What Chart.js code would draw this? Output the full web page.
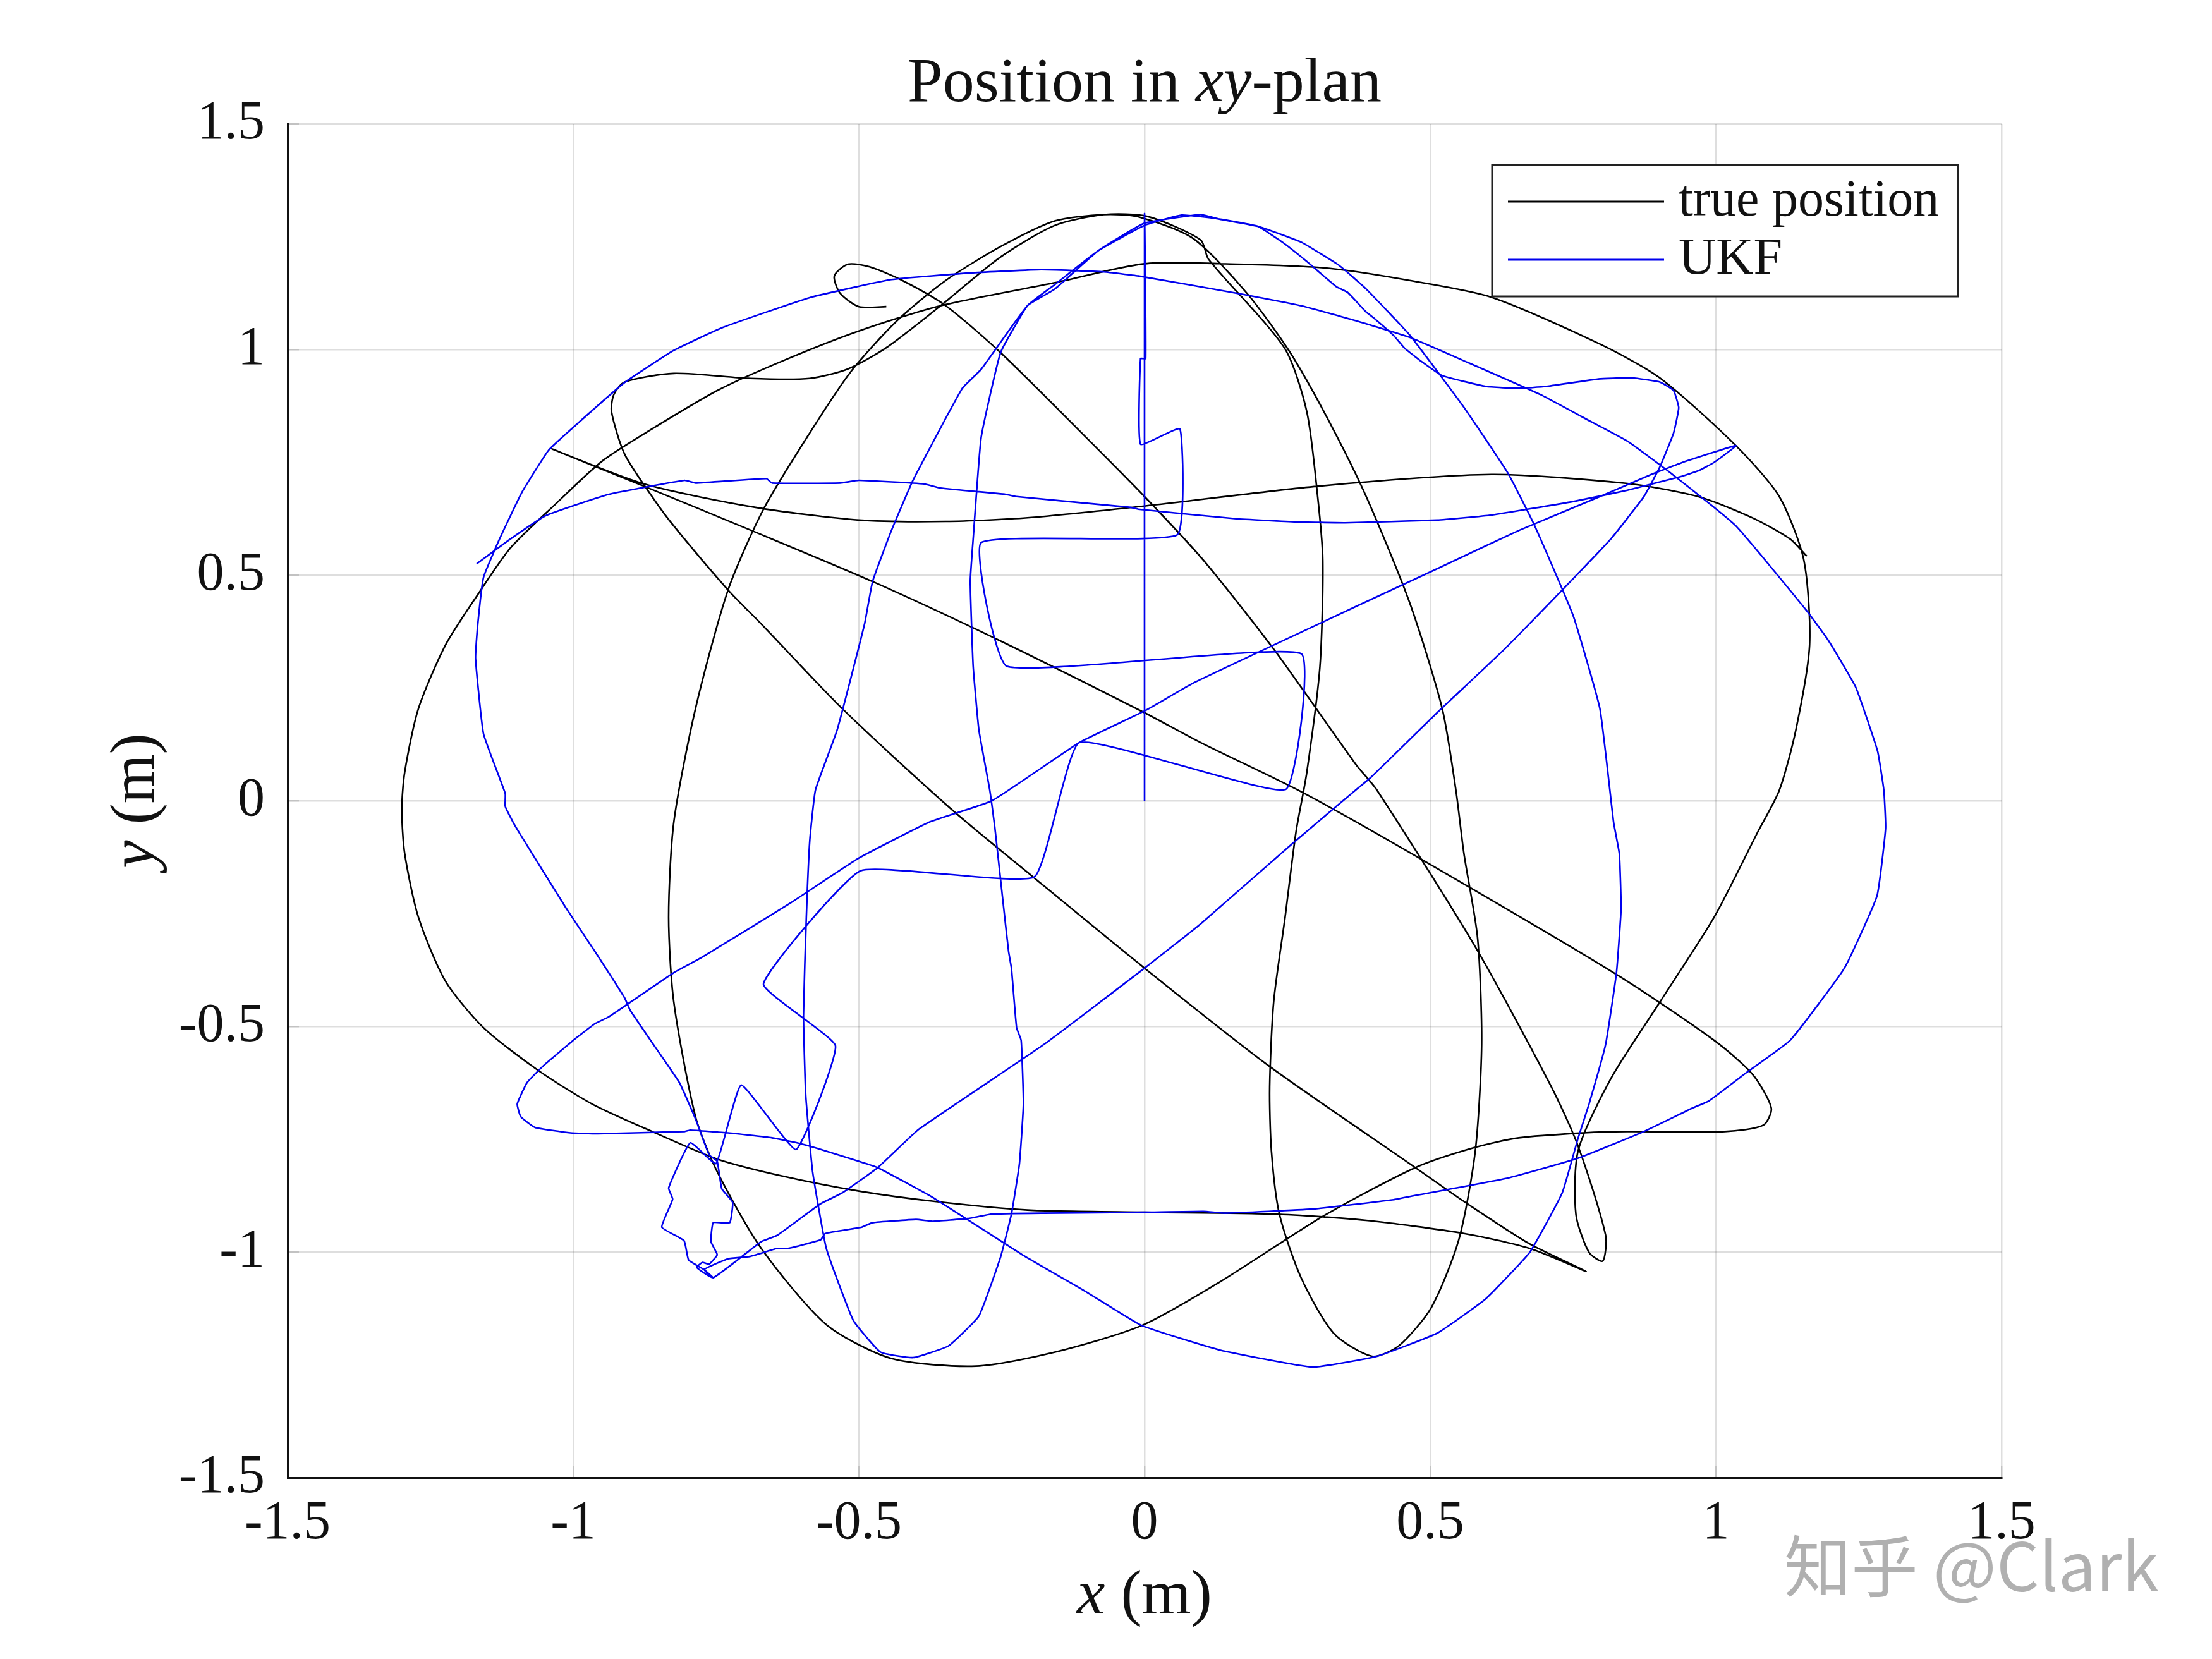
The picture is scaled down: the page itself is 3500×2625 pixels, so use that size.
<!DOCTYPE html>
<html>
<head>
<meta charset="utf-8">
<script src="https://cdn.jsdelivr.net/npm/chart.js@4"></script>
<style>
  html, body { margin: 0; padding: 0; background: #fff; }
  #wrap { width: 3500px; height: 2625px; }
</style>
</head>
<body>
<div id="wrap"><canvas id="c" width="3500" height="2625"></canvas></div>
<script>
// ---- data ----
const axisTicks = [-1.5, -1, -0.5, 0, 0.5, 1, 1.5];
const seriesNames = ['true position', 'UKF'];

// true position, [x, y] in metres
const truePath = [
  [-0.452,1.095],[-0.5,1.095],[-0.533,1.125],[-0.543,1.163],[-0.519,1.189],[-0.481,1.183],[-0.424,1.153],
  [-0.348,1.097],[-0.252,0.993],[-0.11,0.815],[0,0.674],[0.103,0.533],[0.226,0.336],[0.369,0.082],[0.407,0.023],
  [0.579,-0.324],[0.712,-0.634],[0.759,-0.766],[0.807,-0.963],[0.802,-1.02],[0.778,-1.001],[0.755,-0.916],
  [0.759,-0.775],[0.816,-0.616],[0.902,-0.446],[0.997,-0.258],[1.073,-0.07],[1.111,0.023],[1.14,0.157],
  [1.164,0.345],[1.154,0.533],[1.111,0.674],[1.035,0.787],[0.902,0.937],[0.797,1.012],[0.607,1.116],
  [0.464,1.153],[0.322,1.18],[0.16,1.189],[0,1.19],[-0.157,1.148],[-0.357,1.097],[-0.5,1.041],[-0.633,0.975],
  [-0.748,0.909],[-0.862,0.824],[-0.948,0.754],[-1.033,0.655],[-1.11,0.56],[-1.167,0.457],[-1.224,0.344],
  [-1.271,0.204],[-1.295,0.063],[-1.3,-0.02],[-1.295,-0.117],[-1.271,-0.258],[-1.224,-0.399],[-1.157,-0.503],
  [-1.062,-0.597],[-0.967,-0.672],[-0.862,-0.733],[-0.748,-0.794],[-0.633,-0.832],[-0.5,-0.865],[-0.367,-0.888],
  [-0.205,-0.907],[0,-0.912],[0.226,-0.916],[0.388,-0.93],[0.559,-0.959],[0.674,-0.992],[0.773,-1.043],
  [0.674,-0.982],[0.559,-0.888],[0.474,-0.813],[0.217,-0.587],[0,-0.371],[-0.195,-0.169],[-0.338,-0.019],
  [-0.529,0.204],[-0.671,0.392],[-0.729,0.467],[-0.824,0.609],[-0.862,0.674],[-0.91,0.768],[-0.933,0.862],
  [-0.929,0.9],[-0.91,0.928],[-0.824,0.947],[-0.69,0.936],[-0.586,0.936],[-0.519,0.957],[-0.452,1.004],
  [-0.357,1.097],[-0.252,1.205],[-0.157,1.275],[-0.071,1.299],[0.005,1.295],[0.098,1.243],[0.112,1.2],
  [0.245,1.003],[0.284,0.862],[0.303,0.674],[0.312,0.533],[0.307,0.298],[0.284,0.063],[0.265,-0.07],
  [0.246,-0.258],[0.226,-0.446],[0.219,-0.634],[0.222,-0.775],[0.236,-0.916],[0.274,-1.057],[0.331,-1.18],
  [0.398,-1.231],[0.445,-1.208],[0.502,-1.123],[0.55,-0.973],[0.579,-0.775],[0.59,-0.54],[0.583,-0.305],
  [0.559,-0.117],[0.545,0.023],[0.521,0.204],[0.464,0.439],[0.388,0.674],[0.322,0.843],[0.255,0.993],
  [0.179,1.125],[0.084,1.247],[-0.011,1.294],[-0.071,1.299],[-0.157,1.285],[-0.252,1.228],[-0.348,1.153],
  [-0.433,1.064],[-0.514,0.951],[-0.586,0.815],[-0.667,0.646],[-0.729,0.467],[-0.786,0.204],[-0.824,-0.048],
  [-0.833,-0.258],[-0.824,-0.446],[-0.786,-0.7],[-0.748,-0.822],[-0.671,-0.992],[-0.557,-1.161],[-0.443,-1.236],
  [-0.295,-1.253],[-0.157,-1.222],[-0.005,-1.163],[0.131,-1.067],[0.312,-0.921],[0.474,-0.813],[0.579,-0.768],
  [0.655,-0.747],[0.769,-0.736],[0.845,-0.733],[1.016,-0.733],[1.083,-0.719],[1.097,-0.681],[1.064,-0.606],
  [0.997,-0.531],[0.826,-0.385],[0.493,-0.136],[0.274,0.02],[0.098,0.129],[0,0.195],[-0.252,0.354],
  [-0.471,0.483],[-0.69,0.6],[-0.876,0.697],[-1.038,0.78],[-0.876,0.702],[-0.681,0.65],[-0.5,0.622],
  [-0.348,0.619],[-0.205,0.627],[0,0.653],[0.303,0.697],[0.607,0.723],[0.845,0.703],[0.969,0.674],
  [1.064,0.627],[1.13,0.58],[1.159,0.542]
];

// UKF estimate, [x, y] in metres
const ukfPath = [
  [0,0],[0,1.3],[0.002,0.98],[-0.007,0.98],[-0.007,0.79],[0.062,0.824],[0.057,0.589],[-0.286,0.572],
  [-0.241,0.298],[0.274,0.326],[0.247,0.025],[-0.114,0.129],[-0.193,-0.169],[-0.497,-0.155],[-0.667,-0.406],
  [-0.541,-0.543],[-0.61,-0.773],[-0.706,-0.63],[-0.75,-0.804],[-0.795,-0.758],[-0.833,-0.858],[-0.826,-0.883],
  [-0.845,-0.945],[-0.806,-0.975],[-0.798,-1.018],[-0.771,-1.039],[-0.755,-1.057],
  [-0.771,-1.039],[-0.729,-1.015],[-0.691,-1.01],[-0.643,-0.992],[-0.624,-0.992],[-0.567,-0.973],[-0.559,-0.959],
  [-0.495,-0.945],[-0.476,-0.935],[-0.4,-0.928],[-0.371,-0.932],[-0.31,-0.926],[-0.267,-0.916],[-0.176,-0.914],
  [0,-0.912],[0.103,-0.91],[0.141,-0.914],[0.293,-0.905],[0.436,-0.884],[0.464,-0.877],[0.636,-0.836],
  [0.759,-0.792],[0.874,-0.733],[0.959,-0.681],[0.988,-0.665],[1.054,-0.602],[1.13,-0.531],[1.225,-0.371],
  [1.282,-0.211],[1.297,-0.061],[1.294,0.023],[1.283,0.11],[1.245,0.251],[1.197,0.355],[1.159,0.421],
  [1.035,0.609],[0.916,0.731],[0.845,0.797],[0.783,0.839],[0.693,0.9],[0.559,0.975],[0.464,1.027],
  [0.369,1.064],[0.274,1.097],[0.16,1.125],[-0.011,1.163],[-0.071,1.172],[-0.181,1.177],[-0.3,1.17],
  [-0.443,1.155],[-0.586,1.115],[-0.738,1.049],[-0.824,0.998],[-0.91,0.927],[-0.995,0.833],[-1.043,0.777],
  [-1.09,0.683],[-1.129,0.58],[-1.157,0.495],[-1.167,0.392],[-1.171,0.316],[-1.157,0.148],[-1.119,0.016],
  [-1.119,-0.012],[-1.105,-0.048],[-1.09,-0.08],[-1.014,-0.235],[-0.962,-0.334],[-0.91,-0.437],[-0.9,-0.465],
  [-0.857,-0.545],[-0.814,-0.625],[-0.786,-0.705],[-0.762,-0.785],[-0.748,-0.799],[-0.74,-0.86],[-0.721,-0.89],
  [-0.726,-0.935],[-0.755,-0.935],[-0.759,-0.977],[-0.748,-1.006],[-0.762,-1.027],[-0.774,-1.023],
  [-0.784,-1.034],[-0.755,-1.057],
  [-0.671,-0.977],[-0.643,-0.963],[-0.567,-0.893],[-0.529,-0.869],[-0.467,-0.813],[-0.395,-0.728],
  [-0.176,-0.54],[0,-0.371],[0.098,-0.273],[0.255,-0.099],[0.369,0.023],[0.398,0.054],[0.512,0.195],
  [0.626,0.331],[0.731,0.467],[0.816,0.58],[0.874,0.674],[0.902,0.74],[0.926,0.815],[0.935,0.871],
  [0.926,0.909],[0.902,0.928],[0.854,0.937],[0.797,0.935],[0.702,0.918],[0.655,0.914],[0.598,0.918],
  [0.521,0.942],[0.483,0.975],[0.455,1.003],[0.436,1.031],[0.402,1.069],[0.388,1.083],[0.355,1.127],
  [0.336,1.139],[0.284,1.195],[0.241,1.238],[0.198,1.273],[0.131,1.289],[0.065,1.298],[0,1.275],
  [-0.081,1.219],[-0.157,1.144],[-0.205,1.097],[-0.252,0.993],[-0.286,0.805],[-0.3,0.58],[-0.305,0.486],
  [-0.3,0.298],[-0.29,0.157],[-0.271,0.024],[-0.262,-0.06],[-0.257,-0.117],[-0.248,-0.221],[-0.238,-0.334],
  [-0.233,-0.371],[-0.224,-0.503],[-0.216,-0.531],[-0.212,-0.672],[-0.219,-0.804],[-0.233,-0.916],
  [-0.252,-1.011],[-0.29,-1.142],[-0.343,-1.208],[-0.405,-1.234],[-0.462,-1.222],[-0.51,-1.151],
  [-0.557,-0.992],[-0.581,-0.822],[-0.593,-0.653],[-0.597,-0.475],[-0.592,-0.258],[-0.586,-0.089],
  [-0.576,0.024],[-0.538,0.157],[-0.49,0.392],[-0.476,0.486],[-0.443,0.599],[-0.405,0.711],
  [-0.319,0.914],[-0.286,0.956],[-0.205,1.097],[-0.157,1.134],[-0.081,1.219],[0,1.28],[0.098,1.299],
  [0.131,1.289],[0.198,1.273],[0.274,1.238],[0.341,1.186],[0.388,1.134],[0.464,1.032],[0.559,0.872],
  [0.636,0.726],[0.683,0.609],[0.75,0.411],[0.797,0.204],[0.821,-0.048],[0.831,-0.117],[0.834,-0.24],
  [0.826,-0.381],[0.807,-0.54],[0.778,-0.672],[0.759,-0.747],[0.731,-0.869],[0.674,-1.001],[0.597,-1.104],
  [0.512,-1.18],[0.407,-1.231],[0.293,-1.255],[0.131,-1.217],[-0.005,-1.163],[-0.1,-1.09],[-0.214,-1.006],
  [-0.371,-0.879],[-0.467,-0.813],[-0.5,-0.799],[-0.571,-0.771],[-0.605,-0.759],[-0.652,-0.747],
  [-0.729,-0.736],[-0.795,-0.73],[-0.805,-0.733],[-0.957,-0.738],[-1.005,-0.736],[-1.067,-0.724],
  [-1.092,-0.7],[-1.098,-0.672],[-1.081,-0.625],[-1.052,-0.587],[-0.995,-0.526],[-0.962,-0.494],
  [-0.938,-0.479],[-0.824,-0.381],[-0.776,-0.348],[-0.619,-0.226],[-0.5,-0.127],[-0.376,-0.047],
  [-0.267,0.0],[-0.114,0.129],[0,0.199],[0.084,0.26],[0.226,0.345],[0.369,0.43],[0.512,0.514],
  [0.655,0.599],[0.797,0.674],[0.883,0.721],[0.94,0.749],[1.035,0.787],[0.997,0.75],[0.969,0.731],
  [0.94,0.719],[0.845,0.688],[0.75,0.663],[0.607,0.633],[0.512,0.622],[0.351,0.616],[0.265,0.618],
  [0.16,0.625],[-0.011,0.646],[-0.024,0.65],[-0.224,0.674],[-0.243,0.679],[-0.357,0.693],[-0.386,0.702],
  [-0.5,0.71],[-0.533,0.704],[-0.652,0.704],[-0.662,0.714],[-0.786,0.704],[-0.805,0.71],[-0.938,0.679],
  [-1.048,0.632],[-1.11,0.58],[-1.169,0.525]
];

const seriesColors = ['#000000', '#0000ee'];

// ---- chart ----
const SERIF = '"Liberation Serif", "DejaVu Serif", serif';
const AREA = { left: 455, top: 196, right: 3167, bottom: 2338 };

const toPts = arr => arr.map(p => ({ x: p[0], y: p[1] }));

// texts that need italic parts (title, axis names), legend box and watermark
const decorations = {
  id: 'decorations',
  afterDraw(chart) {
    const c = chart.ctx, a = chart.chartArea;
    const mixed = (parts, cx, cy, size) => {
      let w = 0;
      parts.forEach(p => { c.font = (p[1] ? 'italic ' : '') + size + 'px ' + SERIF; w += c.measureText(p[0]).width; });
      let x = cx - w / 2;
      c.textBaseline = 'middle'; c.textAlign = 'left'; c.fillStyle = '#111';
      parts.forEach(p => { c.font = (p[1] ? 'italic ' : '') + size + 'px ' + SERIF; c.fillText(p[0], x, cy); x += c.measureText(p[0]).width; });
    };
    c.save();
    const mid = (a.left + a.right) / 2;
    mixed([['Position in ', false], ['xy', true], ['-plan', false]], mid, 134, 100);
    mixed([['x', true], [' (m)', false]], mid, 2527, 100);
    c.save();
    c.translate(217, (a.top + a.bottom) / 2);
    c.rotate(-Math.PI / 2);
    mixed([['y', true], [' (m)', false]], 0, 0, 100);
    c.restore();

    // legend
    const lx = 2361, ly = 261, lw = 737, lh = 208;
    c.fillStyle = '#fff'; c.fillRect(lx, ly, lw, lh);
    c.strokeStyle = '#222'; c.lineWidth = 3; c.strokeRect(lx, ly, lw, lh);
    seriesNames.forEach((name, i) => {
      const yy = ly + 58 + i * 92;
      c.strokeStyle = seriesColors[i]; c.lineWidth = 3;
      c.beginPath(); c.moveTo(lx + 25, yy); c.lineTo(lx + 272, yy); c.stroke();
      c.fillStyle = '#111'; c.font = '82px ' + SERIF; c.textAlign = 'left'; c.textBaseline = 'middle';
      c.fillText(name, lx + 295, yy);
    });

    // watermark
    c.fillStyle = 'rgba(150,150,150,0.75)';
    c.font = '106px "Noto Sans CJK SC", "Noto Sans", sans-serif';
    c.textAlign = 'left'; c.textBaseline = 'middle';
    c.fillText('知乎 @Clark', 2823, 2478);
    c.restore();
  }
};

new Chart(document.getElementById('c'), {
  type: 'scatter',
  data: {
    datasets: [
      { label: seriesNames[0], data: toPts(truePath), showLine: true, borderColor: seriesColors[0],
        borderWidth: 2.6, pointRadius: 0, tension: 0.25, order: 2 },
      { label: seriesNames[1], data: toPts(ukfPath), showLine: true, borderColor: seriesColors[1],
        borderWidth: 2.6, pointRadius: 0, tension: 0.12, order: 1 }
    ]
  },
  options: {
    responsive: false,
    animation: false,
    layout: { padding: { left: 0, top: AREA.top, right: 3500 - AREA.right, bottom: 0 } },
    plugins: { legend: { display: false }, tooltip: { enabled: false }, title: { display: false } },
    scales: {
      x: {
        type: 'linear', min: -1.5, max: 1.5,
        afterBuildTicks: s => { s.ticks = axisTicks.map(v => ({ value: v })); },
        afterFit: s => { s.height = 2625 - AREA.bottom; },
        ticks: { font: { family: SERIF, size: 86 }, color: '#111', padding: 40, maxRotation: 0,
                 callback: v => String(v) },
        grid: { color: 'rgba(0,0,0,0.13)', lineWidth: 2.5, tickLength: -18, drawTicks: true },
        border: { display: true, color: '#111', width: 3 }
      },
      y: {
        type: 'linear', min: -1.5, max: 1.5,
        afterBuildTicks: s => { s.ticks = axisTicks.map(v => ({ value: v })); },
        afterFit: s => { s.width = AREA.left; },
        ticks: { font: { family: SERIF, size: 86 }, color: '#111', padding: 54,
                 callback: v => String(v) },
        grid: { color: 'rgba(0,0,0,0.13)', lineWidth: 2.5, tickLength: -18, drawTicks: true },
        border: { display: true, color: '#111', width: 3 }
      }
    }
  },
  plugins: [decorations]
});
</script>
</body>
</html>
